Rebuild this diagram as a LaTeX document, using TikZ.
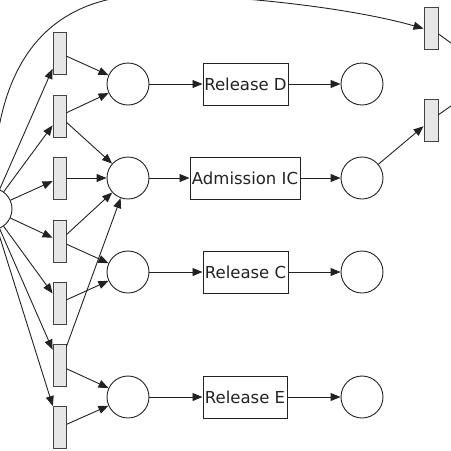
\documentclass[tikz,border=0pt]{standalone}
\usepackage{fontspec}
\newfontfamily\lblfont{DejaVu Sans}
\usetikzlibrary{arrows.meta}
\definecolor{ink}{HTML}{222222}
\definecolor{barfill}{HTML}{E6E6E6}
\begin{document}
\begin{tikzpicture}[x=1pt,y=-1pt,
  place/.style={circle,draw=ink,line width=0.9pt,minimum size=42pt,inner sep=0pt},
  bar/.style={rectangle,draw=ink!85,fill=barfill,line width=0.9pt,minimum width=13pt,minimum height=42pt,inner sep=0pt},
  task/.style={rectangle,draw=ink,line width=1pt,minimum height=42pt,inner sep=0pt,font=\lblfont\fontsize{16.5}{19}\selectfont,text=ink},
  arc/.style={draw=ink,line width=0.9pt,-{Triangle[length=10pt,width=8pt]}},
  plainarc/.style={draw=ink,line width=0.9pt}]
\useasboundingbox (0,0) rectangle (451,451);
\clip (0,0) rectangle (451,451);
% left place (partly outside)
\node[place] (c0) at (-9,209) {};
% left bars
\node[bar] (b1) at (59.5,53) {};
\node[bar] (b2) at (59.5,116) {};
\node[bar] (b3) at (59.5,178) {};
\node[bar] (b4) at (59.5,241) {};
\node[bar] (b5) at (59.5,303) {};
\node[bar] (b6) at (59.5,365.5) {};
\node[bar] (b7) at (59.5,427.5) {};
% middle places
\node[place] (p1) at (128,84) {};
\node[place] (p2) at (128,178) {};
\node[place] (p3) at (128,272) {};
\node[place] (p4) at (128,397) {};
% tasks
\node[task,minimum width=85pt] (t1) at (245.5,84) {Release D};
\node[task,minimum width=110pt] (t2) at (245,178) {Admission IC};
\node[task,minimum width=85pt] (t3) at (245.5,272) {Release C};
\node[task,minimum width=84pt] (t4) at (245,397) {Release E};
% right places
\node[place] (q1) at (362,84) {};
\node[place] (q2) at (362,178) {};
\node[place] (q3) at (362,272) {};
\node[place] (q4) at (362,397) {};
% right bars
\node[bar,minimum width=14pt] (r1) at (431,28.5) {};
\node[bar,minimum width=14pt] (r2) at (431,120) {};
% off-picture points
\coordinate (cs) at (-6,170);
\coordinate (pk) at (165,-5);
\coordinate (off) at (495,75);
% arcs from left place to bars
\foreach \b in {b1,b2,b3,b4,b5,b6,b7} \draw[arc] (c0) -- (\b);
% bars to places
\draw[arc] (b1) -- (p1);
\draw[arc] (b2) -- (p1);
\draw[arc] (b2) -- (p2);
\draw[arc] (b3) -- (p2);
\draw[arc] (b4) -- (p2);
\draw[arc] (b4) -- (p3);
\draw[arc] (b5) -- (p3);
\draw[arc] (b6) -- (p2);
\draw[arc] (b6) -- (p4);
\draw[arc] (b7) -- (p4);
% places to tasks to places
\draw[arc] (p1) -- (t1);
\draw[arc] (p2) -- (t2);
\draw[arc] (p3) -- (t3);
\draw[arc] (p4) -- (t4);
\draw[arc] (t1) -- (q1);
\draw[arc] (t2) -- (q2);
\draw[arc] (t3) -- (q3);
\draw[arc] (t4) -- (q4);
\draw[arc] (q2) -- (r2);
% top curve
\draw[arc] (cs) .. controls (0,60) and (50,-10) .. (pk) .. controls (220,-5) and (340,5) .. (r1.west);
% stubs to the right
\draw[plainarc] (r1) -- (off);
\draw[plainarc] (r2) -- (off);
\end{tikzpicture}
\end{document}
